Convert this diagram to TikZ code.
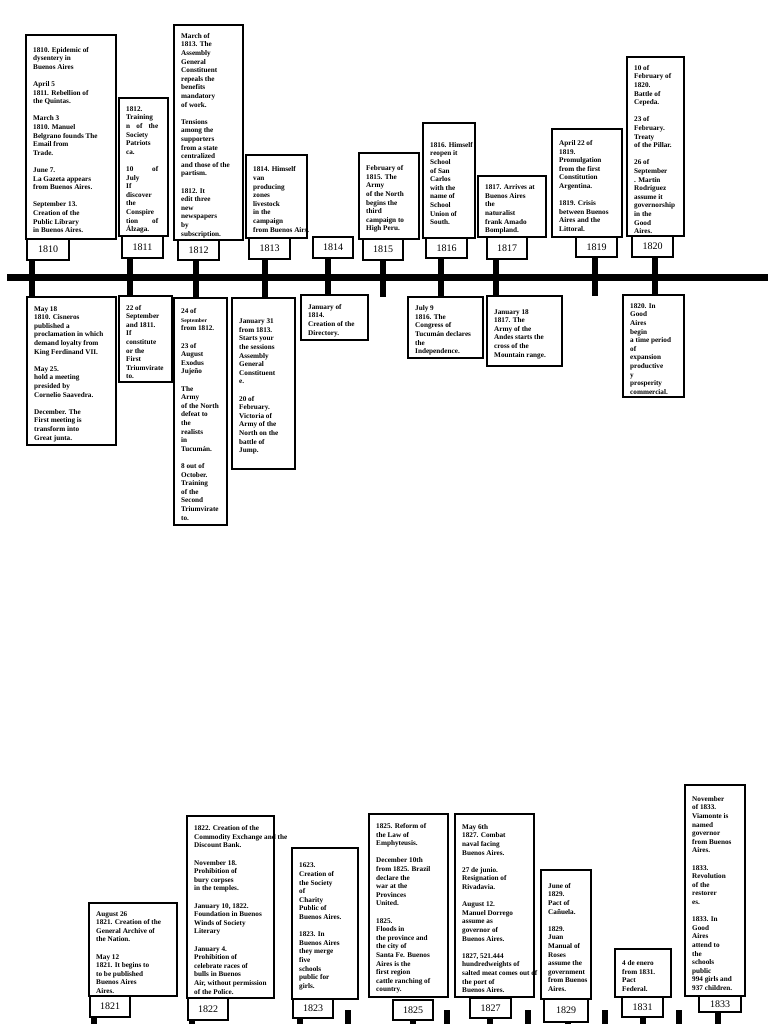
\documentclass[tikz,border=0pt]{standalone}
\usepackage{fontspec}
\setmainfont{Liberation Serif}
\tikzset{
  evframe/.style={draw, line width=1.7pt, fill=white, inner sep=0pt, rectangle},
  evtext/.style={font=\fontsize{7.2}{8.6}\selectfont\bfseries, align=left, inner sep=0pt, anchor=west},
  yearlab/.style={draw, line width=1.4pt, fill=white, inner sep=0pt, rectangle, font=\fontsize{10}{12}\selectfont},
  tickline/.style={line width=6.5pt},
  mainbar/.style={line width=6.5pt}
}
\newcommand\pgap{\\[8.6pt]}
\newcommand\spr[2]{\makebox[#1pt][s]{#2}}
\newcommand\EventBox[6]{%
  \pgfmathsetmacro\ebw{#4-#2}\pgfmathsetmacro\ebh{#5-#3}%
  \pgfmathsetmacro\ebx{(#2+#4)/2}\pgfmathsetmacro\eby{(#3+#5)/2}%
  \pgfmathsetmacro\etx{#2+7}\pgfmathsetmacro\ety{(#3+#5)/2+3}%
  \node[evframe, minimum width=\ebw pt, minimum height=\ebh pt] (#1) at (\ebx,\eby) {};
  \node[evtext] (#1t) at (\etx,\ety) {#6};}
\newcommand\YearBox[6]{%
  \pgfmathsetmacro\ebw{#4-#2}\pgfmathsetmacro\ebh{#5-#3}%
  \pgfmathsetmacro\ebx{(#2+#4)/2}\pgfmathsetmacro\eby{(#3+#5)/2}%
  \node[yearlab, minimum width=\ebw pt, minimum height=\ebh pt] (#1) at (\ebx,\eby) {#6};}
\begin{document}
\begin{tikzpicture}[x=1pt,y=-1pt]
\path[use as bounding box, fill=white] (0,0) rectangle (768,1024);

% ---------------- main bar (top timeline)
\coordinate (barL) at (7,277.5);
\coordinate (barR) at (768,277.5);
\draw[mainbar] (barL) -- (barR);

% tick coordinates
\coordinate (k1810) at (32,277);
\coordinate (k1811) at (130,277);
\coordinate (k1812) at (196,277);
\coordinate (k1813) at (265,277);
\coordinate (k1814) at (328,277);
\coordinate (k1815) at (383,277);
\coordinate (k1816) at (441,277);
\coordinate (k1817) at (496,277);
\coordinate (k1819) at (595,277);
\coordinate (k1820) at (655,277);
\coordinate (e1815) at (383,297);
\coordinate (e1819) at (595,296);

% ---------------- top boxes
\EventBox{a1810}{26}{35}{116}{239}{1810. Epidemic of\\dysentery in\\Buenos Aires\pgap April 5\\1811. Rebellion of\\the Quintas.\pgap March 3\\1810. Manuel\\Belgrano founds The\\Email from\\Trade.\pgap June 7.\\La Gazeta appears\\from Buenos Aires.\pgap September 13.\\Creation of the\\Public Library\\in Buenos Aires.}
\EventBox{a1811}{119}{98}{168}{236}{1812.\\Training\\\spr{32}{n of the}\\Society\\Patriots\\ca.\pgap \spr{32}{10 of}\\July\\If\\discover\\the\\Conspire\\\spr{32}{tion of}\\Álzaga.}
\EventBox{a1812}{174}{25}{243}{240}{March of\\1813. The\\Assembly\\General\\Constituent\\repeals the\\benefits\\mandatory\\of work.\pgap Tensions\\among the\\supporters\\from a state\\centralized\\and those of the\\partism.\pgap 1812. It\\edit three\\new\\newspapers\\by\\subscription.}
\EventBox{a1813}{246}{155}{307}{238}{1814. Himself\\van\\producing\\zones\\livestock\\in the\\campaign\\from Buenos Airs.}
\EventBox{a1815}{359}{153}{419}{239}{February of\\1815. The\\Army\\of the North\\begins the\\third\\campaign to\\High Peru.}
\EventBox{a1816}{423}{123}{475}{238}{1816. Himself\\reopen it\\School\\of San\\Carlos\\with the\\name of\\School\\Union of\\South.}
\EventBox{a1817}{478}{176}{546}{237}{1817. Arrives at\\Buenos Aires\\the\\naturalist\\frank Amado\\Bompland.}
\EventBox{a1819}{552}{129}{622}{237}{April 22 of\\1819.\\Promulgation\\from the first\\Constitution\\Argentina.\pgap 1819. Crisis\\between Buenos\\Aires and the\\Littoral.}
\EventBox{a1820}{627}{57}{684}{236}{10 of\\February of\\1820.\\Battle of\\Cepeda.\pgap 23 of\\February.\\Treaty\\of the Pillar.\pgap 26 of\\September\\. Martín\\Rodríguez\\assume it\\governorship\\in the\\Good\\Aires.}

% ---------------- top year labels
\YearBox{l1810}{27}{239}{69}{260}{1810}
\YearBox{l1811}{122}{236}{163}{258}{1811}
\YearBox{l1812}{178}{240}{219}{260}{1812}
\YearBox{l1813}{249}{238}{290}{259}{1813}
\YearBox{l1814}{313}{237}{353}{258}{1814}
\YearBox{l1815}{363}{239}{403}{260}{1815}
\YearBox{l1816}{426}{238}{467}{258}{1816}
\YearBox{l1817}{487}{237}{527}{259}{1817}
\YearBox{l1819}{576}{237}{617}{257}{1819}
\YearBox{l1820}{632}{236}{673}{257}{1820}

% ---------------- boxes below the line
\EventBox{b1810}{27}{297}{116}{445}{May 18\\1810. Cisneros\\published a\\proclamation in which\\demand loyalty from\\King Ferdinand VII.\pgap May 25.\\hold a meeting\\presided by\\Cornelio Saavedra.\pgap December. The\\First meeting is\\transform into\\Great junta.}
\EventBox{b1811}{119}{296}{172}{382}{22 of\\September\\and 1811.\\If\\constitute\\or the\\First\\Triumvirate\\to.}
\EventBox{b1812}{174}{298}{227}{525}{24 of\\{\fontsize{5.6}{8.6}\selectfont September}\\from 1812.\pgap 23 of\\August\\Exodus\\Jujeño\pgap The\\Army\\of the North\\defeat to\\the\\realists\\in\\Tucumán.\pgap 8 out of\\October.\\Training\\of the\\Second\\Triumvirate\\to.}
\EventBox{b1813}{232}{298}{295}{469}{January 31\\from 1813.\\Starts your\\the sessions\\Assembly\\General\\Constituent\\e.\pgap 20 of\\February.\\Victoria of\\Army of the\\North on the\\battle of\\Jump.}
\EventBox{b1814}{301}{295}{368}{340}{January of\\1814.\\Creation of the\\Directory.}
\EventBox{b1816}{408}{297}{483}{358}{July 9\\1816. The\\Congress of\\Tucumán declares\\the\\Independence.}
\EventBox{b1817}{487}{296}{562}{366}{January 18\\1817. The\\Army of the\\Andes starts the\\cross of the\\Mountain range.}
\EventBox{b1820}{623}{295}{684}{397}{1820. In\\Good\\Aires\\begin\\a time period\\of\\expansion\\productive\\y\\prosperity\\commercial.}

% ---------------- top ticks (label -> box below)
\draw[tickline] (l1810.south -| k1810) -- (b1810.north -| k1810);
\draw[tickline] (l1811.south -| k1811) -- (b1811.north -| k1811);
\draw[tickline] (l1812.south -| k1812) -- (b1812.north -| k1812);
\draw[tickline] (l1813.south -| k1813) -- (b1813.north -| k1813);
\draw[tickline] (l1814.south -| k1814) -- (b1814.north -| k1814);
\draw[tickline] (l1815.south -| k1815) -- (e1815);
\draw[tickline] (l1816.south -| k1816) -- (b1816.north -| k1816);
\draw[tickline] (l1817.south -| k1817) -- (b1817.north -| k1817);
\draw[tickline] (l1819.south -| k1819) -- (e1819);
\draw[tickline] (l1820.south -| k1820) -- (b1820.north -| k1820);

% ---------------- bottom row
\EventBox{c1821}{89}{903}{177}{996}{August 26\\1821. Creation of the\\General Archive of\\the Nation.\pgap May 12\\1821. It begins to\\to be published\\Buenos Aires\\Aires.}
\EventBox{c1822}{187}{816}{274}{998}{1822. Creation of the\\Commodity Exchange and the\\Discount Bank.\pgap November 18.\\Prohibition of\\bury corpses\\in the temples.\pgap January 10, 1822.\\Foundation in Buenos\\Winds of Society\\Literary\pgap January 4.\\Prohibition of\\celebrate races of\\bulls in Buenos\\Air, without permission\\of the Police.}
\EventBox{c1823}{292}{848}{358}{999}{1623.\\Creation of\\the Society\\of\\Charity\\Public of\\Buenos Aires.\pgap 1823. In\\Buenos Aires\\they merge\\five\\schools\\public for\\girls.}
\EventBox{c1825}{369}{814}{448}{997}{1825. Reform of\\the Law of\\Emphyteusis.\pgap December 10th\\from 1825. Brazil\\declare the\\war at the\\Provinces\\United.\pgap 1825.\\Floods in\\the province and\\the city of\\Santa Fe. Buenos\\Aires is the\\first region\\cattle ranching of\\country.}
\EventBox{c1827}{455}{814}{534}{997}{May 6th\\1827. Combat\\naval facing\\Buenos Aires.\pgap 27 de junio.\\Resignation of\\Rivadavia.\pgap August 12.\\Manuel Dorrego\\assume as\\governor of\\Buenos Aires.\pgap 1827, 521.444\\hundredweights of\\salted meat comes out of\\the port of\\Buenos Aires.}
\EventBox{c1829}{541}{870}{591}{999}{June of\\1829.\\Pact of\\Cañuela.\pgap 1829.\\Juan\\Manual of\\Roses\\assume the\\government\\from Buenos\\Aires.}
\EventBox{c1831}{615}{949}{671}{997}{4 de enero\\from 1831.\\Pact\\Federal.}
\EventBox{c1833}{685}{785}{745}{996}{November\\of 1833.\\Viamonte is\\named\\governor\\from Buenos\\Aires.\pgap 1833.\\Revolution\\of the\\restorer\\es.\pgap 1833. In\\Good\\Aires\\attend to\\the\\schools\\public\\994 girls and\\937 children.}

\YearBox{m1821}{90}{996}{130}{1017}{1821}
\YearBox{m1822}{188}{998}{228}{1020}{1822}
\YearBox{m1823}{293}{999}{333}{1018}{1823}
\YearBox{m1825}{393}{1000}{433}{1020}{1825}
\YearBox{m1827}{470}{998}{511}{1018}{1827}
\YearBox{m1829}{544}{999}{588}{1022}{1829}
\YearBox{m1831}{622}{997}{663}{1017}{1831}
\YearBox{m1833}{699}{996}{741}{1012}{1833}

% bottom tick ends (at the lower edge)
\coordinate (z1821) at (94,1026);
\coordinate (z1822) at (192,1026);
\coordinate (z1823) at (300,1026);
\coordinate (z1825) at (413,1026);
\coordinate (z1827) at (490,1026);
\coordinate (z1829) at (568,1026);
\coordinate (z1831) at (643,1026);
\coordinate (z1833) at (718,1026);
\draw[tickline] (m1821.south -| z1821) -- (z1821);
\draw[tickline] (m1822.south -| z1822) -- (z1822);
\draw[tickline] (m1823.south -| z1823) -- (z1823);
\draw[tickline] (m1825.south -| z1825) -- (z1825);
\draw[tickline] (m1827.south -| z1827) -- (z1827);
\draw[tickline] (m1829.south -| z1829) -- (z1829);
\draw[tickline] (m1831.south -| z1831) -- (z1831);
\draw[tickline] (m1833.south -| z1833) -- (z1833);

% unlabeled bottom ticks
\coordinate (u1s) at (348,1010); \coordinate (u1e) at (348,1026);
\coordinate (u2s) at (447,1010); \coordinate (u2e) at (447,1026);
\coordinate (u3s) at (528,1010); \coordinate (u3e) at (528,1026);
\coordinate (u4s) at (605,1010); \coordinate (u4e) at (605,1026);
\coordinate (u5s) at (679,1010); \coordinate (u5e) at (679,1026);
\draw[tickline] (u1s) -- (u1e);
\draw[tickline] (u2s) -- (u2e);
\draw[tickline] (u3s) -- (u3e);
\draw[tickline] (u4s) -- (u4e);
\draw[tickline] (u5s) -- (u5e);
\end{tikzpicture}
\end{document}
